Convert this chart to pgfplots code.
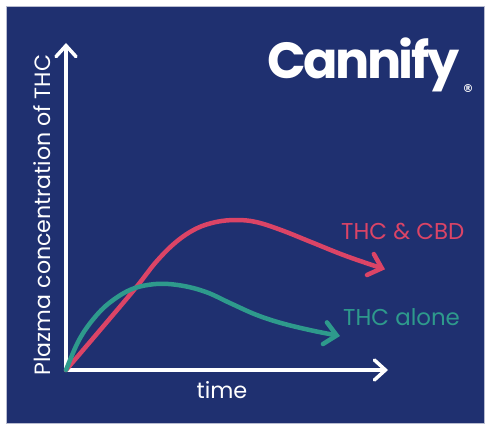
\documentclass[border=0pt]{standalone}
\usepackage{fontspec}
\setmainfont{Poppins}
\newfontfamily\dejavu{DejaVu Sans}
\usepackage{pgfplots}
\pgfplotsset{compat=1.18}
\usetikzlibrary{arrows.meta}
\definecolor{bg}{RGB}{31,48,112}
\definecolor{bordc}{RGB}{184,188,208}
\definecolor{cred}{RGB}{219,68,102}
\definecolor{cgreen}{RGB}{46,154,140}
\begin{document}
\begin{tikzpicture}[x=1bp,y=1bp]
\fill[white] (0,0) rectangle (491,430);
\fill[bordc] (6,6) rectangle (485,424);
\fill[bg] (7,7) rectangle (484,423);
\begin{axis}[at={(66bp,60bp)}, anchor=south west, scale only axis,
  width=322bp, height=327bp, xmin=0, xmax=322, ymin=0, ymax=327,
  axis lines=left, ticks=none, clip=false,
  axis line style={white, line width=3.5bp, line cap=round, -{Straight Barb[length={11bp 0 0}, width={20bp 0 0}, line cap=round]}}]
\addplot[cred, line width=4.5bp, smooth, tension=0.6, line cap=round,
  -{Straight Barb[length={12bp 0 0}, width={22bp 0 0}, line cap=round]}] coordinates {
  (0,0) (35,41) (70,82.5) (90,108) (110,128) (130,141.3) (150,148) (170,150)
  (190,148) (215,140) (245,128) (280,114) (319,100.7)};
\addplot[cgreen, line width=4.5bp, smooth, tension=0.6, line cap=round,
  -{Straight Barb[length={12bp 0 0}, width={22bp 0 0}, line cap=round]}] coordinates {
  (0,0) (12,28) (25,48) (42,66) (65,80.5) (90,86) (115,84.5) (140,78)
  (165,66.5) (190,55.3) (215,47) (245,39.7) (274,34)};
\end{axis}
\node[anchor=base west, text=cred, font=\fontsize{23}{26}\selectfont, inner sep=0] at (341,191) {THC \& CBD};
\node[anchor=base west, text=cgreen, font=\fontsize{23}{26}\selectfont, inner sep=0] at (343,105) {THC alone};
\node[anchor=base, text=white, font=\fontsize{22.5}{26}\selectfont, inner sep=0] at (222,32) {time};
\node[anchor=base, rotate=90, text=white, font=\fontsize{22.2}{26}\selectfont, inner sep=0] at (50,215) {Plazma concentration of THC};
\node[anchor=base west, text=white, font=\fontsize{51}{60}\selectfont\bfseries\addfontfeatures{LetterSpace=-5}, inner sep=0] at (267,352) {Cannify};
\node[anchor=center, text=white, font=\dejavu\bfseries\fontsize{11}{12}\selectfont, inner sep=0] at (468,341) {®};
\end{tikzpicture}
\end{document}
